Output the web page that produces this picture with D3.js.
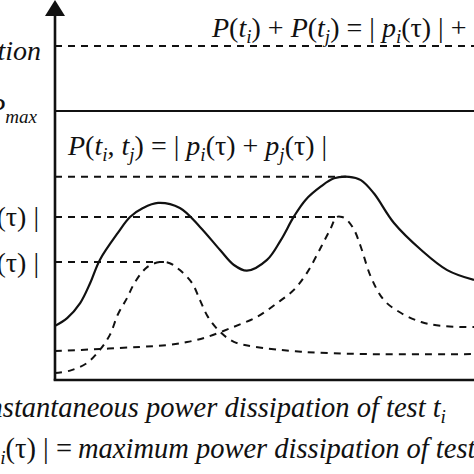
<!DOCTYPE html>
<html>
<head>
<meta charset="utf-8">
<script src="https://cdn.jsdelivr.net/npm/d3@7"></script>
<style>
  body { margin: 0; background: #fff; }
  svg { display: block; }
</style>
</head>
<body>
<div id="graf"></div>
<script>
const ancho = 474
const alto = 474

// curvas: [tiempo, potencia]
const sumaCurva = [[0, 17.7], [2.9, 20.3], [6, 25.3], [8.4, 32], [10.7, 39.7], [15, 48.7], [17.9, 54],
  [21, 57], [24.6, 58.7], [29.8, 57], [34.6, 50.7], [39.4, 43], [42.7, 38], [45.8, 36.1], [50.6, 39.7],
  [53.9, 46.3], [57, 54.1], [59.8, 59.7], [63.4, 64.1], [66.6, 66.9], [70.2, 67.4], [73, 66.3],
  [76.1, 61.9], [80.9, 52], [87.4, 43], [93.6, 36.3], [100, 33]]
const piCurva = [[0, 2], [3.6, 2.8], [7.6, 5.3], [10.7, 9.7], [13.1, 14.7], [15, 21.5], [17.2, 27],
  [19.1, 32.3], [22, 37.3], [25, 39], [27.4, 38.6], [29.8, 36.3], [32.7, 32], [34.6, 26.3], [36.5, 20.7],
  [39.4, 15.7], [42.7, 12.4], [47.5, 10.8], [58.7, 9.1], [74.5, 8.3], [100, 8.3]]
const pjCurva = [[0, 9.3], [10.7, 10], [20.3, 10.7], [26.7, 11.3], [31.5, 12.3], [36.3, 14], [42.5, 17.3],
  [48.2, 20.7], [53, 25.3], [57, 29.7], [60.1, 35.3], [63.5, 44], [65.8, 50.2], [67.2, 54], [68.5, 54],
  [69.7, 53], [71.4, 49.7], [73, 44], [75.4, 34], [78.5, 26.3], [82.6, 22], [87.4, 19], [92.1, 17.7], [100, 17.3]]

// niveles horizontales: [potencia, tiempo final]
const nivelSuma = [111, 100]   // P(ti) + P(tj)
const nivelMax = [89.3, 100]   // Pmax
const nivelesPico = [[67.4, 69.5], [54, 68.5], [39, 26]]

const svg = d3.select('#graf')
  .append('svg')
  .attr('width', ancho)
  .attr('height', alto)

const x = d3.scaleLinear().domain([0, 100]).range([55, 474])
const y = d3.scaleLinear().domain([0, 100]).range([379, 79])

const linea = d3.line()
  .x(d => x(d[0]))
  .y(d => y(d[1]))
  .curve(d3.curveCatmullRom.alpha(0.5))

// lineas horizontales
svg.append('line')
  .attr('x1', x(0)).attr('x2', x(nivelSuma[1]))
  .attr('y1', y(nivelSuma[0])).attr('y2', y(nivelSuma[0]))
  .attr('stroke', '#111').attr('stroke-width', 2)
  .attr('stroke-dasharray', '7 6')

svg.append('line')
  .attr('x1', x(0)).attr('x2', x(nivelMax[1]))
  .attr('y1', y(nivelMax[0])).attr('y2', y(nivelMax[0]))
  .attr('stroke', '#111').attr('stroke-width', 2)

svg.selectAll('.pico')
  .data(nivelesPico)
  .enter()
  .append('line')
    .attr('class', 'pico')
    .attr('x1', x(0))
    .attr('x2', d => x(d[1]))
    .attr('y1', d => y(d[0]))
    .attr('y2', d => y(d[0]))
    .attr('stroke', '#111')
    .attr('stroke-width', 2)
    .attr('stroke-dasharray', '7 6')

// curvas
svg.append('path').datum(piCurva)
  .attr('d', linea).attr('fill', 'none')
  .attr('stroke', '#111').attr('stroke-width', 2).attr('stroke-dasharray', '7 6')

svg.append('path').datum(pjCurva)
  .attr('d', linea).attr('fill', 'none')
  .attr('stroke', '#111').attr('stroke-width', 2).attr('stroke-dasharray', '7 6')

svg.append('path').datum(sumaCurva)
  .attr('d', linea).attr('fill', 'none')
  .attr('stroke', '#111').attr('stroke-width', 2.2)

// ejes
svg.append('line')
  .attr('x1', x(0)).attr('x2', x(0))
  .attr('y1', y(0) + 1.5).attr('y2', 14)
  .attr('stroke', '#111').attr('stroke-width', 2.6)

svg.append('line')
  .attr('x1', x(0) - 1.3).attr('x2', x(100))
  .attr('y1', y(0) + 1).attr('y2', y(0) + 1)
  .attr('stroke', '#111').attr('stroke-width', 2.7)

svg.append('path')
  .attr('d', `M${x(0)},0 L${x(0) - 10},16 L${x(0) + 10},16 Z`)
  .attr('fill', '#111')

// textos: cada trozo es un <text> propio, colocado midiendo el anterior
function texto(px, py, partes, ancla, tam) {
  const g = svg.append('g')
  let cx = 0
  partes.forEach(([s, k]) => {
    const sub = k === 's'
    const t = g.append('text')
      .attr('x', cx)
      .attr('y', sub ? 6 : 0)
      .attr('font-family', "'Liberation Serif', monospace")
      .attr('font-style', k === 'r' ? 'normal' : 'italic')
      .attr('font-size', sub ? tam * 0.68 : tam)
      .attr('fill', '#111')
      .text(s.replace(/ /g, '\u00a0'))
    cx += t.node().getComputedTextLength()
  })
  const dx = ancla === 'end' ? px - cx : px
  g.attr('transform', `translate(${dx}, ${py})`)
}

const tam = 28
texto(212, 37, [['P', 'i'], ['(', 'r'], ['t', 'i'], ['i', 's'], [') + ', 'r'], ['P', 'i'], ['(', 'r'],
  ['t', 'i'], ['j', 's'], [') = | ', 'r'], ['p', 'i'], ['i', 's'], ['(τ) | + | ', 'r'], ['p', 'i'],
  ['j', 's'], ['(τ) |', 'r']], 'start', tam)

texto(68, 155, [['P', 'i'], ['(', 'r'], ['t', 'i'], ['i', 's'], [', ', 'r'], ['t', 'i'], ['j', 's'],
  [') = | ', 'r'], ['p', 'i'], ['i', 's'], ['(τ) + ', 'r'], ['p', 'i'], ['j', 's'], ['(τ) |', 'r']], 'start', tam)

texto(41, 60, [['Power dissipation', 'i']], 'end', tam)
texto(37, 117, [['P', 'i'], ['max', 's']], 'end', tam)
texto(39, 226, [['| ', 'r'], ['p', 'i'], ['j', 's'], ['(τ) |', 'r']], 'end', tam)
texto(39, 272, [['| ', 'r'], ['p', 'i'], ['i', 's'], ['(τ) |', 'r']], 'end', tam)

texto(446, 417, [['P', 'i'], ['(', 'r'], ['t', 'i'], ['i', 's'], [') = ', 'r'],
  ['instantaneous power dissipation of test t', 'i'], ['i', 's']], 'end', 28.5)
texto(72, 458, [['| ', 'r'], ['p', 'i'], ['i', 's'], ['(τ) | =', 'r']], 'end', 28.5)
texto(78, 458, [['maximum power dissipation of test t', 'i'], ['i', 's']], 'start', 28.5)
</script>
</body>
</html>
